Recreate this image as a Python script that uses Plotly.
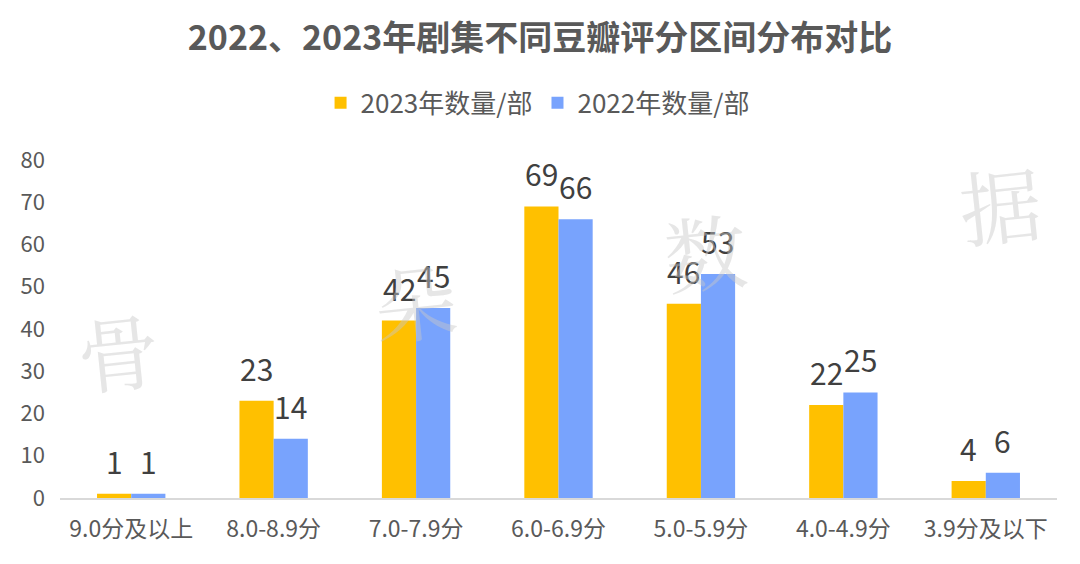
import plotly.graph_objects as go

categories = ["9.0分及以上", "8.0-8.9分", "7.0-7.9分", "6.0-6.9分", "5.0-5.9分", "4.0-4.9分", "3.9分及以下"]
values_2023 = [1, 23, 42, 69, 46, 22, 4]
values_2022 = [1, 14, 45, 66, 53, 25, 6]
y_ticks = [0, 10, 20, 30, 40, 50, 60, 70, 80]
watermark = ["骨", "朵", "数", "据"]

FONT = "Noto Sans CJK SC"

fig = go.Figure()
fig.add_trace(go.Bar(
    name="2023年数量/部", x=categories, y=values_2023,
    marker=dict(color="#FFC000", line=dict(width=0)),
))
fig.add_trace(go.Bar(
    name="2022年数量/部", x=categories, y=values_2022,
    marker=dict(color="#78A3FD", line=dict(width=0)),
))

# data labels (placed like the original: centred over each bar, lifted above it)
for vals, dx in ((values_2023, -17), (values_2022, 17)):
    for c, v in zip(categories, vals):
        fig.add_annotation(
            x=c, y=v, xref="x", yref="y", text=str(v), showarrow=False,
            xshift=dx, yshift=33, yanchor="middle", xanchor="center",
            font=dict(size=30, color="#404040", family=FONT),
        )

wm_pos = [(0.058, 0.44), (0.356, 0.586), (0.647, 0.734), (0.943, 0.875)]
for ch, (px, py) in zip(watermark, wm_pos):
    fig.add_annotation(
        text=ch, xref="paper", yref="paper", x=px, y=py,
        xanchor="center", yanchor="middle",
        showarrow=False, textangle=-6,
        font=dict(size=82, color="rgba(200,200,200,0.45)", family="Noto Serif CJK SC, Noto Sans CJK SC"),
    )

fig.update_layout(
    width=1080, height=564,
    paper_bgcolor="white", plot_bgcolor="white",
    margin=dict(l=52, r=31, t=152, b=74),
    title=dict(text="<b>2022、2023年剧集不同豆瓣评分区间分布对比</b>",
               x=0.4926, xanchor="center", y=0.947, yanchor="middle",
               font=dict(size=34, color="#595959", family=FONT)),
    legend=dict(orientation="h", x=0.479, xanchor="center", y=1.169, yanchor="middle",
                font=dict(size=26, color="#595959", family=FONT),
                itemwidth=30, traceorder="normal"),
    barmode="group", bargap=0.52, bargroupgap=0,
    font=dict(family=FONT, color="#595959"),
)
fig.update_xaxes(showline=True, linecolor="#D9D9D9", linewidth=2,
                 tickfont=dict(size=23, color="#595959", family=FONT),
                 ticks="", showgrid=False, ticklabelstandoff=9)
fig.update_yaxes(range=[0, 80], tickvals=y_ticks, showgrid=False, zeroline=False,
                 showline=False, ticks="", ticklabelstandoff=14,
                 tickfont=dict(size=22, color="#595959", family=FONT))

fig.write_html("out.html")
